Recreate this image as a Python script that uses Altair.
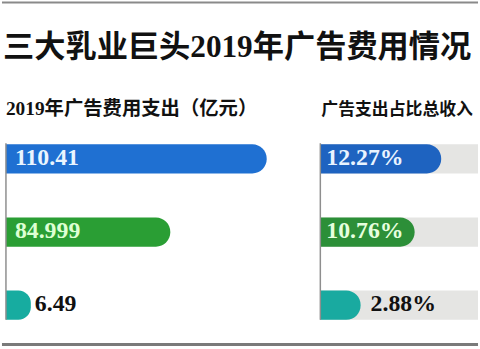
import altair as alt
import pandas as pd

# ---- data ----
companies = ["伊利", "蒙牛", "光明"]
ad_spend = [110.41, 84.999, 6.49]
ad_spend_labels = ["110.41", "84.999", "6.49"]
ad_share = [12.27, 10.76, 2.88]
ad_share_labels = ["12.27%", "10.76%", "2.88%"]

title_text = "三大乳业巨头2019年广告费用情况"
left_title = "2019年广告费用支出（亿元）"
right_title = "广告支出占比总收入"

# ---- styles ----
left_colors = ["#1f70d2", "#2a9e34", "#17aca0"]
right_colors = ["#1e63c0", "#2c8f38", "#19aaa0"]
left_label_colors = ["#eaf5ff", "#ddffd3", "#111111"]
right_label_colors = ["#e9f4ff", "#e6ffdf", "#111111"]
serif = "'Liberation Serif', 'Noto Sans CJK SC', serif"

W1, W2, H = 290, 159, 177

left_df = pd.DataFrame({"company": companies, "value": ad_spend, "label": ad_spend_labels})
right_df = pd.DataFrame({"company": companies, "value": ad_share, "label": ad_share_labels})
one = pd.DataFrame({"k": [0]})

y_enc = alt.Y("company:N", sort=companies, axis=None,
              scale=alt.Scale(paddingInner=0.6, paddingOuter=0))

left_min, left_max = -35.2, 116.5
right_min, right_max = -9.61, 13.89
left_scale = alt.Scale(type="pow", exponent=2, domain=[left_min, left_max], zero=False, nice=False)
right_scale = alt.Scale(type="pow", exponent=3, domain=[right_min, right_max], zero=False, nice=False)


def text_at(txt, x, y, size):
    return alt.Chart(one).mark_text(
        text=txt, align="left", baseline="alphabetic", font=serif,
        fontSize=size, fontWeight="bold", color="#111111"
    ).encode(x=alt.value(x), y=alt.value(y))


def panel(df, xscale, xmin, width, colors, label_colors, threshold, in_x, out_dx, extra):
    base = alt.Chart(df)
    bars = base.mark_bar(cornerRadiusTopRight=14.5, cornerRadiusBottomRight=14.5).encode(
        x=alt.X("value:Q", scale=xscale, axis=None),
        x2=alt.datum(xmin),
        y=y_enc,
        color=alt.Color("company:N", scale=alt.Scale(domain=companies, range=colors), legend=None),
    )
    inside = base.transform_filter(f"datum.value > {threshold}").mark_text(
        align="left", baseline="middle", font=serif, fontSize=24, fontWeight="bold", dy=-1
    ).encode(
        x=alt.value(in_x),
        y=y_enc,
        text="label:N",
        color=alt.Color("company:N", scale=alt.Scale(domain=companies, range=label_colors), legend=None),
    )
    outside = base.transform_filter(f"datum.value <= {threshold}").mark_text(
        align="left", baseline="middle", font=serif, fontSize=24, fontWeight="bold",
        dx=out_dx, dy=-1, color="#111111"
    ).encode(
        x=alt.X("value:Q", scale=xscale, axis=None),
        y=y_enc,
        text="label:N",
    )
    axis_line = alt.Chart(one).mark_rule(color="#8e8e8e", strokeWidth=1.5).encode(
        x=alt.value(0), y=alt.value(-1), y2=alt.value(H)
    )
    layers = extra[:1] + [bars, axis_line, inside, outside] + extra[1:]
    return alt.layer(*layers).resolve_scale(color="independent").properties(
        width=width, height=H
    )


top_line = alt.Chart(one).mark_rule(color="#8a8a8a", strokeWidth=2).encode(
    x=alt.value(-4), x2=alt.value(476), y=alt.value(-143)
)
bottom_line = alt.Chart(one).mark_rule(color="#7a7a7a", strokeWidth=3).encode(
    x=alt.value(-4), x2=alt.value(476), y=alt.value(202)
)
track = alt.Chart(right_df).mark_bar(color="#e5e5e3").encode(
    x=alt.value(W2), x2=alt.value(0), y=y_enc
)

left = panel(left_df, left_scale, left_min, W1, left_colors, left_label_colors, 40, 9, 4,
             [top_line, bottom_line,
              text_at(title_text, -3, -88, 31.5),
              text_at(left_title, 0, -29, 19.5)])
right = panel(right_df, right_scale, right_min, W2, right_colors, right_label_colors, 5, 6, 10,
              [track, text_at(right_title, 1, -29, 17)])

chart = alt.hconcat(left, right, spacing=27, bounds="flush").properties(
    padding={"left": 0, "top": 0, "right": 0, "bottom": 0},
    background="white",
).configure_view(stroke=None)

chart.save("out.html", embed_options={"renderer": "svg", "actions": False})
